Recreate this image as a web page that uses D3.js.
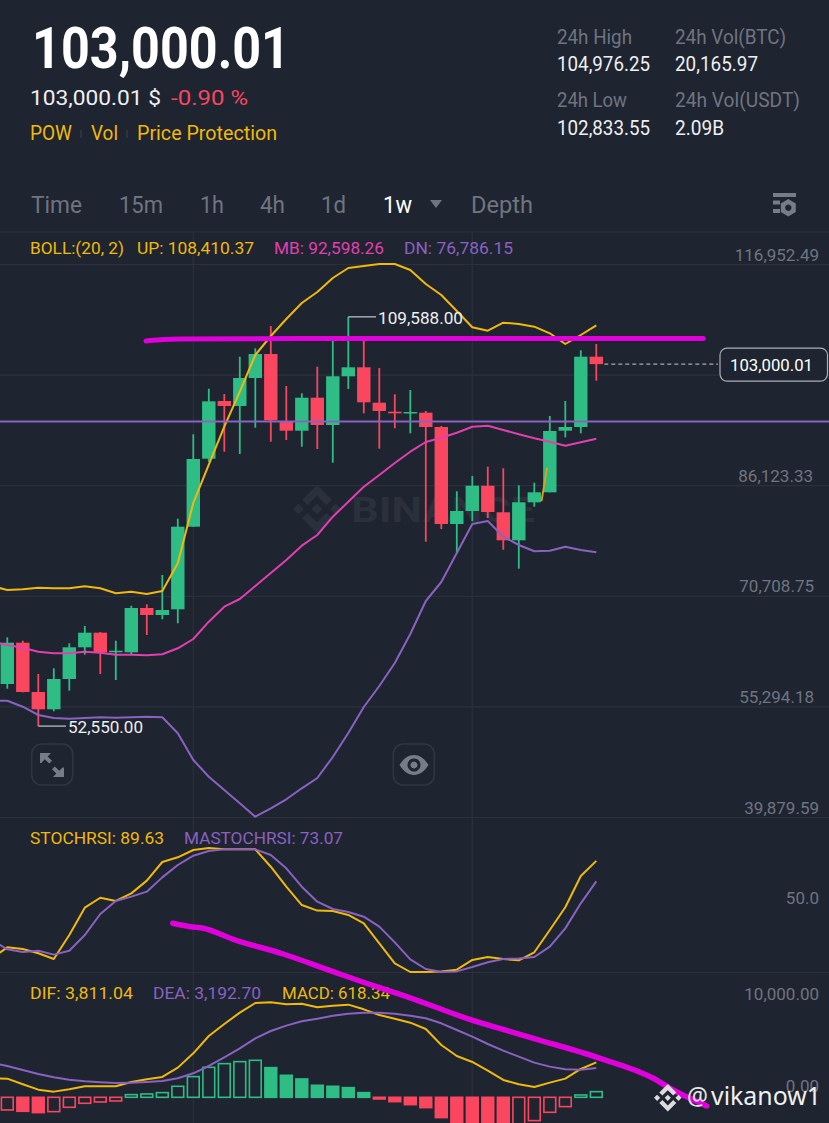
<!DOCTYPE html>
<html>
<head>
<meta charset="utf-8">
<script src="https://cdn.jsdelivr.net/npm/d3@7"></script>
<style>
  html, body { margin: 0; padding: 0; background: #1e2430; }
  svg { display: block; font-family: Roboto, sans-serif; }
</style>
</head>
<body>
<div id="chart"></div>
<script>
// weekly candles, oldest first
const opens = [58417,64173,57302,54890,59113,63531,65567,62835,62835,69009,68033,68828,80340,89817,97858,97161,101064,104409,95071,93719,98318,94513,101301,102555,97620,96367,96144,96228,94235,80716,82528,86054,82346,78444,83740,85134,93719,94235,104032];
const highs = [64925,64451,59810,60605,64089,66500,65670,64451,69329,69524,73608,81455,93217,99573,98834,104032,105203,108311,99949,98931,102639,106221,109588,106221,102458,98792,99391,96465,94374,85273,87406,88702,88479,86109,86472,95768,97858,104924,105802];
const lows = [57762,57260,52550,54612,57483,62500,59810,58974,62598,65246,67434,66876,80300,89399,90792,90472,94137,92186,92423,91489,91169,89259,99531,96144,91210,94054,93357,78249,80019,76632,81092,81552,77134,74486,83127,85134,92799,93357,100688];
const closes = [64173,57302,54890,59113,63531,65567,62835,63058,69009,68033,68730,80340,89775,97817,97161,101064,104409,95168,93719,98318,94513,101301,102555,97677,96465,96144,96325,94235,80716,82528,86054,82388,78444,83740,85134,93677,94235,104032,103000];

// indicator series start one week before the first candle
const bollUp = [72075,71517,71615,71838,71754,71754,72033,71754,71057,71280,70960,71378,75239,83643,88981,94276,99155,104269,106917,109287,111517,113050,115001,116395,116673,116952,116952,116116,114165,112632,110402,108130,107656,108771,108590,108214,107294,105802,107057,108410];
const bollMid = [64270,63852,63476,62918,62695,62695,62918,62779,62500,62500,62416,62556,63392,64688,67099,69190,70263,72075,73887,75698,77692,79183,81733,83824,85914,87545,89217,90792,92144,92743,93440,94276,94416,93817,93217,92660,92186,91628,92102,92598];
const bollDn = [56089,56089,55253,54096,53678,53581,53678,53775,53720,53775,53859,53775,51546,47824,45497,43643,41790,39922,41093,42347,43880,45316,48243,51587,55211,58138,61343,65385,69984,72632,76674,80716,81134,78946,77789,76911,76995,77552,77092,76786];
const stochRsi = [11,19.9,18.5,15.1,10.5,29.8,51.9,59.9,57.3,63.4,73.7,88.7,92.5,98.4,100,98.9,98.9,98.9,84.9,68.8,54,49.5,49.2,46,39.2,23.1,7,0,0,0.5,1.9,9.7,12.1,10.5,9.4,15.9,33.9,52.2,77.4,89.63];
const maStochRsi = [25.8,18.3,16.1,17.2,14,17.2,29.8,46.8,57.3,60.8,64.8,76.3,86.3,93.8,97.6,98.9,98.9,98.9,94.4,83.6,68.8,56.7,50.8,48.4,44.6,36.6,23.9,10.2,2.4,0,0.5,4,7.8,10.5,10.8,12.1,20.4,35.2,55.4,73.07];
const dif = [2069,2033,1416,835,617,871,1198,1198,1198,1670,1960,2214,3231,4792,6679,7986,9220,10273,10346,10128,10200,9801,9983,10091,9583,8966,8567,8131,7442,5699,4501,3848,2904,1888,1416,1125,1597,2033,3086,3811];
const dea = [3775,3412,2977,2541,2178,1924,1742,1634,1561,1597,1670,1779,2069,2614,3412,4356,5336,6425,7224,7805,8276,8567,8894,9111,9220,9220,9111,8894,8603,8059,7333,6607,5808,5082,4429,3775,3340,3049,3013,3193];
const macd = [-1379,-1525,-1670,-1561,-1089,-653,-508,-399,290,363,508,1198,2251,3267,3666,3884,4029,3231,2396,1997,1307,1198,1053,508,-182,-472,-799,-1125,-2214,-2832,-2900,-3000,-3200,-3013,-2541,-1634,-1016,254,618];

const priceTicks = [116952.49,101537.91,86123.33,70708.75,55294.18,39879.59];
const priceTickRight = [819,819,813,814,814,819];
const lastPrice = 103000;
const levelPrice = 95000;
const maxMark = {index: 22, price: 109588};
const minMark = {index: 2, price: 52550};

// hand drawn marks on the screenshot: week index + value on the panel scale
const drawnFlat = [[8.95,106221],[9.2,106290],[11.14,106499],[18.9,106569],[44.9,106569]];
const drawnTrend = [[10.67,18954],[11.79,18584],[12.65,18410],[14.58,17211],[17.81,15610],[21.03,13682],[23.83,12048],[25.34,11220],[29.64,8606],[33.94,6427],[38.24,4248],[41.68,2070],[42.95,795],[44.05,-109],[45.12,-948]];
const drawnStub = [[34.47,83921],[34.82,88562]];

const width = 829, height = 1123;
const colors = {
  bg: '#1e2430', grid: '#2b303c', up: '#2ebd85', down: '#fb4660', yellow: '#f0b90b',
  pink: '#e23fb0', purple: '#8a62c0', grey: '#6f7580', white: '#eef0f3', drawn: '#e000dc'
};
const binancePath = 'M7.3 10.1 12 5.4l4.7 4.7 2.7-2.7L12 0 4.6 7.4zM0 12l2.7-2.7L5.4 12l-2.7 2.7zM7.3 13.9 12 18.6l4.7-4.7 2.7 2.7L12 24l-7.4-7.4zM18.6 12l2.7-2.7L24 12l-2.7 2.7zM14.7 12 12 9.3 9.3 12 12 14.7z';

const svg = d3.select('#chart').append('svg').attr('width', width).attr('height', height);
svg.append('rect').attr('width', width).attr('height', height).attr('fill', colors.bg);

// scales
const x = d3.scaleLinear().domain([0, 38]).range([7.3, 596.3]);
const yPrice = d3.scaleLinear().domain([39879.59, 116952.49]).range([817, 264]);
const yStoch = d3.scaleLinear().domain([0, 100]).range([972, 848]);
const yMacd = d3.scaleLinear().domain([0, 10000]).range([1097.3, 1005.5]);
const bodyW = 13.4;

// small helper for every plain label
function label(g, px, py, str, color, size, w, anchor, weight) {
  const t = g.append('text').attr('x', px).attr('y', py).attr('fill', color)
    .attr('font-size', size).attr('font-weight', weight || 400).attr('text-anchor', anchor || 'start').text(str);
  if (w) t.attr('textLength', w).attr('lengthAdjust', 'spacingAndGlyphs');
  return t;
}

// header
const head = svg.append('g');
label(head, 32, 68, '103,000.01', '#ffffff', 57, 258, 'start', 700);
label(head, 30, 105, '103,000.01 $', colors.white, 21, 131);
label(head, 171, 105, '-0.90 %', colors.down, 21, 77);
label(head, 30, 140, 'POW', colors.yellow, 19.5, 42);
label(head, 91, 140, 'Vol', colors.yellow, 19.5, 27);
label(head, 137, 140, 'Price Protection', colors.yellow, 19.5, 140);
head.selectAll('line.sep').data([81, 127]).enter().append('line').attr('class', 'sep')
  .attr('x1', d => d).attr('x2', d => d).attr('y1', 130).attr('y2', 138).attr('stroke', '#3a404c');
label(head, 557, 44, '24h High', colors.grey, 19.5, 75);
label(head, 675, 44, '24h Vol(BTC)', colors.grey, 19.5, 111);
label(head, 557, 71, '104,976.25', colors.white, 19.5, 93);
label(head, 675, 71, '20,165.97', colors.white, 19.5, 83);
label(head, 557, 107, '24h Low', colors.grey, 19.5, 70);
label(head, 675, 107, '24h Vol(USDT)', colors.grey, 19.5, 125);
label(head, 557, 135, '102,833.55', colors.white, 19.5, 93);
label(head, 675, 135, '2.09B', colors.white, 19.5, 49);

// interval tabs
const tabs = [['Time',31,51],['15m',119,44],['1h',200,24],['4h',260,25],['1d',321,25],['1w',383,29],['Depth',471,62]];
tabs.forEach(t => label(head, t[1], 213, t[0], t[0] === '1w' ? '#ffffff' : colors.grey, 23, t[2]));
head.append('path').attr('d', 'M430 200h12l-6 8z').attr('fill', colors.grey);

// settings icon
const gear = head.append('g').attr('fill', '#777d88');
gear.append('rect').attr('x', 773).attr('y', 193).attr('width', 23).attr('height', 4);
gear.append('rect').attr('x', 773).attr('y', 200.5).attr('width', 7).attr('height', 4);
gear.append('rect').attr('x', 773).attr('y', 209).attr('width', 7).attr('height', 4);
gear.append('path').attr('fill-rule', 'evenodd')
  .attr('d', 'M788.3 199l7.5 4.4v8.7l-7.5 4.4-7.5-4.4v-8.7zM788.3 204.5a3.2 3.2 0 1 0 .01 0z');

// frame lines and week grid
const gridG = svg.append('g').attr('stroke', colors.grid).attr('stroke-width', 1.2);
gridG.append('line').attr('x1', 0).attr('x2', width).attr('y1', 232).attr('y2', 232);
gridG.selectAll('line.week').data([12, 30]).enter().append('line').attr('class', 'week')
  .attr('x1', d => x(d)).attr('x2', d => x(d)).attr('y1', 232).attr('y2', height);

// price axis, ticks run across the chart as gridlines
const priceAxis = d3.axisLeft(yPrice).tickValues(priceTicks).tickFormat(d3.format(',.2f')).tickSize(width).tickSizeOuter(0);
const priceAxisG = svg.append('g').attr('transform', `translate(${width},0)`).call(priceAxis);
const stochAxis = d3.axisLeft(yStoch).tickValues([0, 50]).tickFormat(d3.format('.1f')).tickSize(width).tickSizeOuter(0);
const stochAxisG = svg.append('g').attr('transform', `translate(${width},0)`).call(stochAxis);
const macdAxis = d3.axisLeft(yMacd).tickValues([0, 10000]).tickFormat(d3.format(',.2f')).tickSize(0).tickSizeOuter(0);
const macdAxisG = svg.append('g').attr('transform', `translate(${width},0)`).call(macdAxis);
[priceAxisG, stochAxisG, macdAxisG].forEach(g => {
  g.select('.domain').remove();
  g.selectAll('.tick line').attr('stroke', colors.grid).attr('stroke-width', 1.2);
  g.selectAll('.tick text').attr('x', -10).attr('dy', 0).attr('fill', colors.grey)
    .attr('font-size', 17).attr('font-family', 'Roboto, sans-serif');
});
priceAxisG.selectAll('.tick text').attr('x', (d, i) => priceTickRight[i] - width).attr('y', -4);
// the 101,537.91 label sits behind the last price box
priceAxisG.selectAll('.tick').filter(d => d === priceTicks[1]).select('text').remove();
stochAxisG.selectAll('.tick text').attr('y', -7);
stochAxisG.selectAll('.tick').filter(d => d === 0).select('text').remove();
stochAxisG.selectAll('.tick').filter(d => d === 50).select('line').remove();
macdAxisG.selectAll('.tick text').attr('y', -6);

// watermark
const mark = svg.append('g').attr('fill', '#2a303c');
mark.append('path').attr('d', binancePath).attr('transform', 'translate(293,485) scale(2)');
label(mark, 351, 522, 'BINANCE', '#2a303c', 35, 184, 'start', 700);

// candles
const candleData = opens.map((o, i) => ({i, o, h: highs[i], l: lows[i], c: closes[i]}));
const candleColor = d => d.c >= d.o ? colors.up : colors.down;
const candles = svg.append('g').selectAll('g').data(candleData).enter().append('g');
candles.append('line')
  .attr('x1', d => x(d.i)).attr('x2', d => x(d.i))
  .attr('y1', d => yPrice(d.h)).attr('y2', d => yPrice(d.l))
  .attr('stroke', candleColor).attr('stroke-width', 1.8);
candles.append('rect')
  .attr('x', d => x(d.i) - bodyW / 2).attr('width', bodyW)
  .attr('y', d => yPrice(Math.max(d.o, d.c)))
  .attr('height', d => Math.max(1.5, Math.abs(yPrice(d.o) - yPrice(d.c))))
  .attr('fill', candleColor);

// indicator lines, index -1 sits just off the left edge
function drawSeries(values, yScale, color, w) {
  const line = d3.line().x((d, i) => x(i - 1)).y(d => yScale(d));
  svg.append('path').datum(values).attr('fill', 'none').attr('stroke', color)
    .attr('stroke-width', w || 2).attr('stroke-linejoin', 'round').attr('d', line);
}
drawSeries(bollUp, yPrice, colors.yellow);
drawSeries(bollMid, yPrice, colors.pink);
drawSeries(bollDn, yPrice, colors.purple);
drawSeries(stochRsi, yStoch, colors.yellow);
drawSeries(maStochRsi, yStoch, colors.purple);

// macd histogram: hollow while the value is rising, solid while falling
const bars = svg.append('g').selectAll('rect').data(macd).enter().append('rect')
  .attr('x', (d, i) => x(i) - bodyW / 2 + 0.8).attr('width', bodyW - 1.6)
  .attr('y', d => Math.min(yMacd(d), yMacd(0)))
  .attr('height', d => Math.abs(yMacd(d) - yMacd(0)))
  .attr('stroke-width', 1.6)
  .attr('stroke', d => d >= 0 ? colors.up : colors.down)
  .attr('fill', (d, i) => {
    const rising = i === 0 || d > macd[i - 1];
    return rising ? 'none' : (d >= 0 ? colors.up : colors.down);
  });
drawSeries(dif, yMacd, colors.yellow);
drawSeries(dea, yMacd, colors.purple);

// level line drawn on the screenshot
svg.append('line').attr('x1', 0).attr('x2', width)
  .attr('y1', yPrice(levelPrice)).attr('y2', yPrice(levelPrice))
  .attr('stroke', colors.purple).attr('stroke-width', 2);

// last price
svg.append('line').attr('x1', x(38) + 8).attr('x2', 718)
  .attr('y1', yPrice(lastPrice)).attr('y2', yPrice(lastPrice))
  .attr('stroke', '#c9ccd2').attr('stroke-width', 1).attr('stroke-dasharray', '4 3');
svg.append('rect').attr('x', 720).attr('y', yPrice(lastPrice) - 16).attr('width', 107.5).attr('height', 33).attr('rx', 7)
  .attr('fill', colors.bg).attr('stroke', '#aab0b8').attr('stroke-width', 1.2);
label(svg, 730, yPrice(lastPrice) + 7, '103,000.01', '#ffffff', 17, 83);

// high and low marks
function leader(m, labelX, labelW) {
  const px = x(m.index), py = yPrice(m.price);
  svg.append('line').attr('x1', px).attr('x2', labelX - 2).attr('y1', py).attr('y2', py)
    .attr('stroke', '#b8bcc4').attr('stroke-width', 1.3);
  label(svg, labelX, py + 7, d3.format(',.2f')(m.price), colors.white, 17, labelW);
}
leader(maxMark, 378, 85);
leader(minMark, 68, 75);

// panel captions
const caps = svg.append('g');
label(caps, 30, 254, 'BOLL:(20, 2)', colors.yellow, 16.5, 94);
label(caps, 137, 254, 'UP: 108,410.37', colors.yellow, 16.5, 117);
label(caps, 274, 254, 'MB: 92,598.26', colors.pink, 16.5, 110);
label(caps, 404, 254, 'DN: 76,786.15', colors.purple, 16.5, 109);
label(caps, 30, 844, 'STOCHRSI: 89.63', colors.yellow, 16.5, 134);
label(caps, 184, 844, 'MASTOCHRSI: 73.07', colors.purple, 16.5, 159);
label(caps, 30, 999, 'DIF: 3,811.04', colors.yellow, 16.5, 103);
label(caps, 153, 999, 'DEA: 3,192.70', colors.purple, 16.5, 108);
label(caps, 282, 999, 'MACD: 618.34', colors.yellow, 16.5, 108);

// chart buttons
const btn = svg.append('g');
[31.7, 393.3].forEach(bx => {
  btn.append('rect').attr('x', bx).attr('y', 744).attr('width', 41).attr('height', 41).attr('rx', 10)
    .attr('fill', 'none').attr('stroke', '#30363f').attr('stroke-width', 1.6);
});
btn.append('path').attr('fill', '#777d88')
  .attr('d', 'M40 753h11l-3.4 3.4 4.4 4.4-2.8 2.8-4.4-4.4L41.4 763H40zM64 777H53l3.4-3.4-4.4-4.4 2.8-2.8 4.4 4.4 3.4-3.4H64z');
btn.append('path').attr('fill', '#777d88').attr('fill-rule', 'evenodd')
  .attr('d', 'M399.5 765c4-6.5 9-10 14.5-10s10.5 3.5 14.5 10c-4 6.5-9 10-14.5 10s-10.500-3.500-14.500-10zM414 758.500a6.500 6.500 0 1 0 .01 0zM414 761.500a3.500 3.500 0 1 1-.01 0z');

// hand drawn magenta strokes
const drawnLine = yScale => d3.line().x(d => x(d[0])).y(d => yScale(d[1])).curve(d3.curveMonotoneX);
svg.append('path').datum(drawnFlat).attr('fill', 'none').attr('stroke', colors.drawn)
  .attr('stroke-width', 5).attr('stroke-linecap', 'round').attr('d', drawnLine(yPrice));
svg.append('path').datum(drawnTrend).attr('fill', 'none').attr('stroke', colors.drawn)
  .attr('stroke-width', 5.5).attr('stroke-linecap', 'round').attr('d', drawnLine(yMacd));
svg.append('path').datum(drawnStub).attr('fill', 'none').attr('stroke', '#e8a010')
  .attr('stroke-width', 1.8).attr('d', d3.line().x(d => x(d[0])).y(d => yPrice(d[1])));

// poster watermark
const tag = svg.append('g');
tag.append('path').attr('d', binancePath).attr('fill', '#dcdcdc').attr('transform', 'translate(654,1084) scale(1.15)');
label(tag, 687, 1105, '@', '#e6e6e6', 25, 21, 'start').attr('font-family', '"Noto Sans", sans-serif');
label(tag, 711, 1105, 'vikanow1', '#f0f0f0', 25, 110, 'start').attr('font-family', '"Noto Sans", sans-serif');
</script>
</body>
</html>
